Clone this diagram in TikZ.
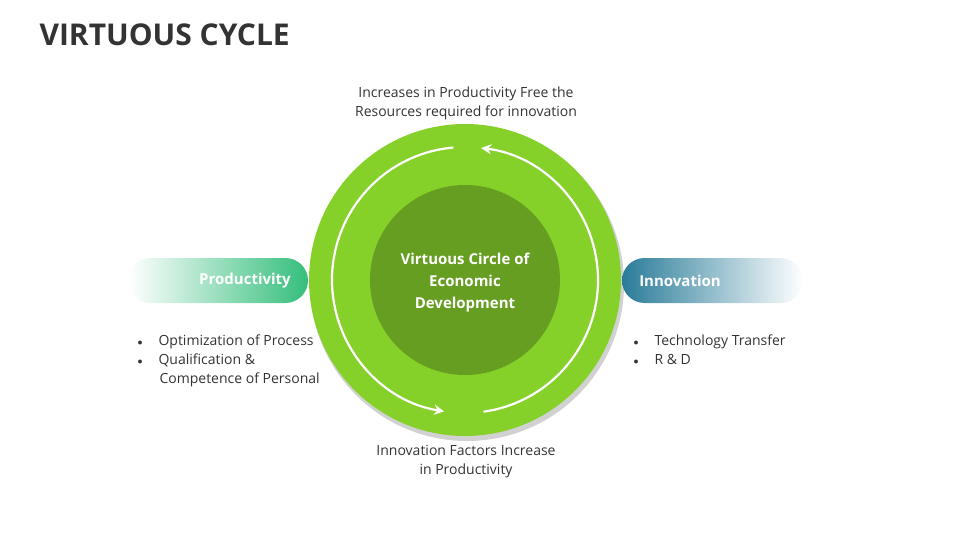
\documentclass[tikz,border=0pt]{standalone}
\usepackage{fontspec}
\setmainfont{Open Sans}
\usetikzlibrary{arrows.meta,shadings}
\definecolor{lg}{HTML}{86D02A}
\definecolor{dg}{HTML}{669E21}
\definecolor{pg}{HTML}{34BE7C}
\definecolor{tl}{HTML}{2A7C99}
\newcommand{\bul}{{\fontsize{10}{10}\selectfont$\bullet$}\hspace{16pt}}
\tikzset{txt/.style={font=\fontsize{14}{19}\selectfont, text=black!80, align=center},
pill/.style={rounded corners=22.5pt},
arc/.style={white, line width=2.2pt, -{Stealth[length=10pt,width=10pt]}},
lab/.style={font=\fontsize{15}{19}\bfseries\selectfont, text=white}}
\begin{document}
\begin{tikzpicture}[x=1pt,y=-1pt]
\useasboundingbox (0,0) rectangle (960,540);
\node[anchor=west, font=\fontsize{30}{36}\bfseries\selectfont, text=black!80] (title) at (36,35) {VIRTUOUS CYCLE};
\fill[black!18] (467,284) circle (157);
\fill[lg] (465,280) circle (156);
\coordinate (c) at (465,280);
\fill[dg] (c) circle (95);
\node[text=white, font=\fontsize{15}{22}\bfseries\selectfont, align=center] (core) at (465,283) {Virtuous Circle of\\Economic\\Development};
\draw[arc] ([shift={(-95:133)}]c) arc[start angle=-95, end angle=-261, radius=133];
\draw[arc] ([shift={(-278:133)}]c) arc[start angle=-278, end angle=-443, radius=133];
\shade[pill, left color=white, right color=pg] (128,258) rectangle (308,303);
\node[lab] (prod) at (245,281) {Productivity};
\shade[pill, left color=tl, right color=white] (622,258) rectangle (803,303);
\node[lab] (innov) at (680,281) {Innovation};
\node[txt] (top) at (466,103) {Increases in Productivity Free the\\Resources required for innovation};
\node[txt] (bot) at (466,462) {Innovation Factors Increase\\in Productivity};
\node[txt, align=left, anchor=north west] (pl) at (134,331) {\bul Optimization of Process\\\bul Qualification \&\\\hspace{22pt}Competence of Personal};
\node[txt, align=left, anchor=north west] (il) at (630,331) {\bul Technology Transfer\\\bul R \& D};
\end{tikzpicture}
\end{document}
